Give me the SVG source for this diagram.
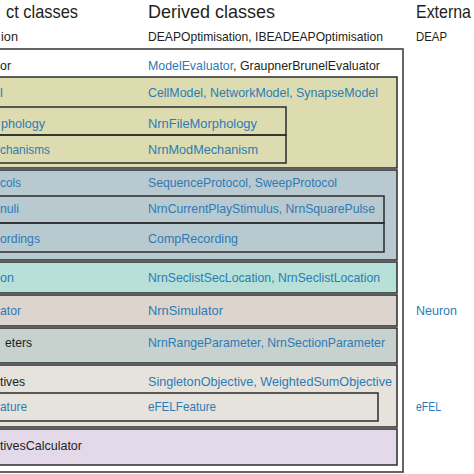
<svg xmlns="http://www.w3.org/2000/svg" width="474" height="474" viewBox="0 0 474 474">
<style>
text{font-family:"Liberation Sans","Open Sans",Arial,sans-serif;font-size:13px;fill:#231f20}
.h{font-size:19px}
.b{fill:#2d7bb6}
.box{stroke:#2b2b2b;stroke-width:1.5}
.in{fill:none;stroke:#2b2b2b;stroke-width:1.5}
</style>
<rect x="0" y="0" width="474" height="474" fill="#ffffff"/>
<g id="headers">
<text class="h" x="6" y="18" textLength="72" lengthAdjust="spacingAndGlyphs">ct classes</text>
<text class="h" x="148" y="18" textLength="127" lengthAdjust="spacingAndGlyphs">Derived classes</text>
<text class="h" x="416" y="18" textLength="55" lengthAdjust="spacingAndGlyphs">Externa</text>
</g>
<g id="optimisation">
<text x="1" y="41" textLength="17" lengthAdjust="spacingAndGlyphs">ion</text>
<text x="148" y="41" textLength="235" lengthAdjust="spacingAndGlyphs">DEAPOptimisation, IBEADEAPOptimisation</text>
<text x="416" y="41" textLength="31" lengthAdjust="spacingAndGlyphs">DEAP</text>
</g>
<rect id="outer" x="-20" y="49" width="423" height="423" fill="#ffffff" stroke="#555555" stroke-width="1.8"/>
<g id="evaluator">
<text x="0" y="70" textLength="11" lengthAdjust="spacingAndGlyphs">or</text>
<text x="148" y="70" textLength="232" lengthAdjust="spacingAndGlyphs"><tspan class="b">ModelEvaluator</tspan>, GraupnerBrunelEvaluator</text>
</g>
<g id="model">
<rect class="box" x="-20" y="77" width="417" height="91" fill="#dcdcb0"/>
<text class="b" x="0" y="97">l</text>
<text class="b" x="148" y="97" textLength="230" lengthAdjust="spacingAndGlyphs">CellModel, NetworkModel, SynapseModel</text>
</g>
<g id="morphology">
<rect class="in" x="-20" y="107" width="306" height="28"/>
<text class="b" x="1" y="128" textLength="44" lengthAdjust="spacingAndGlyphs">phology</text>
<text class="b" x="148" y="128" textLength="109" lengthAdjust="spacingAndGlyphs">NrnFileMorphology</text>
</g>
<g id="mechanisms">
<rect class="in" x="-20" y="135" width="306" height="28"/>
<text class="b" x="0" y="154" textLength="50" lengthAdjust="spacingAndGlyphs">chanisms</text>
<text class="b" x="148" y="154" textLength="110" lengthAdjust="spacingAndGlyphs">NrnModMechanism</text>
</g>
<g id="protocols">
<rect class="box" x="-20" y="170" width="417" height="90" fill="#b9c9d0"/>
<text class="b" x="0" y="187" textLength="21" lengthAdjust="spacingAndGlyphs">cols</text>
<text class="b" x="148" y="187" textLength="189" lengthAdjust="spacingAndGlyphs">SequenceProtocol, SweepProtocol</text>
</g>
<g id="stimuli">
<rect class="in" x="-20" y="196" width="404" height="27"/>
<text class="b" x="0" y="213" textLength="19" lengthAdjust="spacingAndGlyphs">nuli</text>
<text class="b" x="148" y="213" textLength="227" lengthAdjust="spacingAndGlyphs">NrnCurrentPlayStimulus, NrnSquarePulse</text>
</g>
<g id="recordings">
<rect class="in" x="-20" y="223" width="404" height="29"/>
<text class="b" x="0" y="243" textLength="40" lengthAdjust="spacingAndGlyphs">ordings</text>
<text class="b" x="148" y="243" textLength="90" lengthAdjust="spacingAndGlyphs">CompRecording</text>
</g>
<g id="location">
<rect class="box" x="-20" y="262" width="417" height="31" fill="#b6e0d8"/>
<text class="b" x="0" y="282" textLength="14" lengthAdjust="spacingAndGlyphs">on</text>
<text class="b" x="148" y="282" textLength="232" lengthAdjust="spacingAndGlyphs">NrnSeclistSecLocation, NrnSeclistLocation</text>
</g>
<g id="simulator">
<rect class="box" x="-20" y="295" width="417" height="31" fill="#dcd4cd"/>
<text class="b" x="0" y="315" textLength="21" lengthAdjust="spacingAndGlyphs">ator</text>
<text class="b" x="148" y="315" textLength="75" lengthAdjust="spacingAndGlyphs">NrnSimulator</text>
<text class="b" x="416" y="315" textLength="41" lengthAdjust="spacingAndGlyphs">Neuron</text>
</g>
<g id="parameters">
<rect class="box" x="-20" y="328" width="417" height="35" fill="#c7d1cd"/>
<text x="5" y="347" textLength="27" lengthAdjust="spacingAndGlyphs">eters</text>
<text class="b" x="148" y="347" textLength="237" lengthAdjust="spacingAndGlyphs">NrnRangeParameter, NrnSectionParameter</text>
</g>
<g id="objectives">
<rect class="box" x="-20" y="365" width="417" height="62" fill="#e6e3dc"/>
<text x="0" y="386" textLength="25" lengthAdjust="spacingAndGlyphs">tives</text>
<text class="b" x="148" y="386" textLength="244" lengthAdjust="spacingAndGlyphs">SingletonObjective, WeightedSumObjective</text>
</g>
<g id="feature">
<rect class="in" x="-20" y="393" width="398" height="28"/>
<text class="b" x="0" y="411" textLength="27" lengthAdjust="spacingAndGlyphs">ature</text>
<text class="b" x="148" y="411" textLength="68" lengthAdjust="spacingAndGlyphs">eFELFeature</text>
<text class="b" x="416" y="411" textLength="25" lengthAdjust="spacingAndGlyphs">eFEL</text>
</g>
<g id="calculator">
<rect class="box" x="-20" y="429" width="417" height="36" fill="#e3d9e8"/>
<text x="0" y="450" textLength="82" lengthAdjust="spacingAndGlyphs">tivesCalculator</text>
</g>
</svg>
